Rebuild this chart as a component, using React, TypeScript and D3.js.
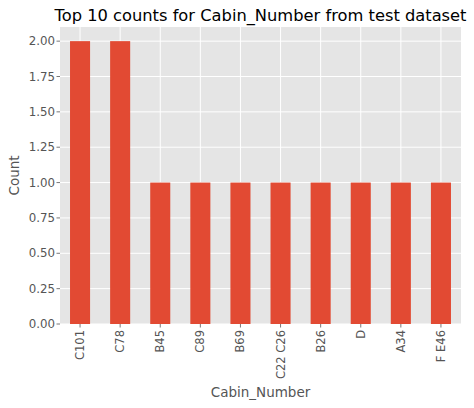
import React from "react";
import * as d3 from "d3";

const cabins = ["C101", "C78", "B45", "C89", "B69", "C22 C26", "B26", "D", "A34", "F E46"];
const counts = [2, 2, 1, 1, 1, 1, 1, 1, 1, 1];
const yTicks = [0, 0.25, 0.5, 0.75, 1, 1.25, 1.5, 1.75, 2];

const W = 474;
const H = 408;
const margin = { top: 27, right: 13, bottom: 84, left: 60 };
const font = "DejaVu Sans, sans-serif";

export default function App() {
  const x = d3
    .scaleBand<string>()
    .domain(cabins)
    .range([margin.left, W - margin.right])
    .paddingInner(0.5)
    .paddingOuter(0.25);
  const y = d3
    .scaleLinear()
    .domain([0, 2.1])
    .range([H - margin.bottom, margin.top]);

  const plotW = W - margin.left - margin.right;
  const plotH = H - margin.top - margin.bottom;

  return (
    <svg
      width={W}
      height={H}
      style={{ position: "absolute", left: 0, top: 0, background: "#fff" }}
      fontFamily={font}
    >
      <rect x={margin.left} y={margin.top} width={plotW} height={plotH} fill="#E5E5E5" />
      {yTicks.map((t) => (
        <line key={"gy" + t} x1={margin.left} x2={W - margin.right} y1={y(t)} y2={y(t)} stroke="#fff" strokeWidth={1} />
      ))}
      {cabins.map((c) => (
        <line
          key={"gx" + c}
          x1={x(c)! + x.bandwidth() / 2}
          x2={x(c)! + x.bandwidth() / 2}
          y1={margin.top}
          y2={H - margin.bottom}
          stroke="#fff"
          strokeWidth={1}
        />
      ))}
      {cabins.map((c, i) => (
        <rect
          key={"b" + c}
          x={x(c)!}
          y={y(counts[i])}
          width={x.bandwidth()}
          height={y(0) - y(counts[i])}
          fill="#E24A33"
        />
      ))}
      {yTicks.map((t) => (
        <g key={"ty" + t}>
          <line x1={margin.left - 3.5} x2={margin.left} y1={y(t)} y2={y(t)} stroke="#555" strokeWidth={0.8} />
          <text x={margin.left - 5} y={y(t)} dy="0.35em" textAnchor="end" fontSize={11.8} fill="#555">
            {t.toFixed(2)}
          </text>
        </g>
      ))}
      {cabins.map((c) => {
        const cx = x(c)! + x.bandwidth() / 2;
        return (
          <g key={"tx" + c}>
            <line x1={cx} x2={cx} y1={y(0)} y2={y(0) + 3.5} stroke="#555" strokeWidth={0.8} />
            <text
              transform={`translate(${cx},${y(0) + 6}) rotate(-90)`}
              dy="0.35em"
              textAnchor="end"
              fontSize={11.5}
              fill="#555"
            >
              {c}
            </text>
          </g>
        );
      })}
      <text x={margin.left + plotW / 2} y={21} textAnchor="middle" fontSize={16.3} fill="#000">
        Top 10 counts for Cabin_Number from test dataset
      </text>
      <text x={margin.left + plotW / 2} y={397} textAnchor="middle" fontSize={13.5} fill="#555">
        Cabin_Number
      </text>
      <text
        transform={`translate(19,${margin.top + plotH / 2}) rotate(-90)`}
        textAnchor="middle"
        fontSize={13.5}
        fill="#555"
      >
        Count
      </text>
    </svg>
  );
}
